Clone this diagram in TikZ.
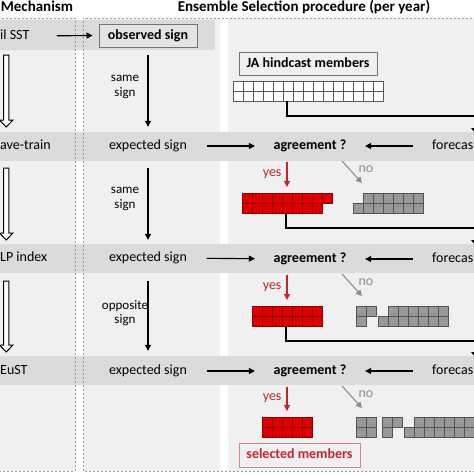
\documentclass[tikz,border=0pt]{standalone}
\usepackage{fontspec}
\setmainfont{Carlito}
\usetikzlibrary{arrows.meta}
\definecolor{panel}{gray}{0.94}
\definecolor{band}{gray}{0.86}
\definecolor{keepfill}{RGB}{222,0,0}
\definecolor{keepline}{RGB}{140,0,0}
\definecolor{dropfill}{gray}{0.6}
\definecolor{dropline}{gray}{0.33}
\definecolor{yescol}{RGB}{200,35,45}
\definecolor{nocol}{gray}{0.55}
\definecolor{selline}{RGB}{220,130,130}
\tikzset{
  txt/.style={font=\fontsize{14}{16}\selectfont,inner sep=0pt,text height=10pt,text depth=3pt},
  title/.style={txt,font=\fontsize{15}{17}\selectfont\bfseries},
  lbl/.style={font=\fontsize{13}{14.5}\selectfont,align=center,inner sep=0pt},
  box/.style={txt,font=\fontsize{14}{16}\selectfont\bfseries,draw=black!55,fill=band!60!panel,line width=1pt},
  link/.style={line width=1.1pt,-{Triangle[width=6pt,length=6pt]}},
  hlink/.style={link,shorten <=19.5pt,shorten >=18.5pt},
  yeslink/.style={link,draw=yescol,color=yescol,shorten <=9pt,shorten >=6pt},
  nolink/.style={link,draw=nocol,color=nocol},
  feed/.style={line width=1.1pt,-{Triangle[width=10pt,length=6pt]}},
  sep/.style={draw=black!40,line width=0.8pt,dash pattern=on 2pt off 2pt},
  member/.style={draw=black!65,fill=white,line width=0.8pt},
  keep/.style={draw=keepline,fill=keepfill,line width=0.8pt},
  drop/.style={draw=dropline,fill=dropfill,line width=0.8pt}
}
\newcommand\memrow[4]{\foreach \i in {1,...,#4} \draw[#1] ({#2+10*\i-10},#3) rectangle ++(10,10);}
\begin{document}
\begin{tikzpicture}[x=1pt,y=-1pt]
  \useasboundingbox (0,0) rectangle (474,474);
  \clip (0,0) rectangle (474,474);
  \fill[white] (0,0) rectangle (474,474);
  \fill[panel] (0,18) rectangle (75,471);
  \fill[panel] (83,18) rectangle (220,471);
  \fill[panel] (228,18) rectangle (480,471);
  \fill[band] (0,20) rectangle (215,50);
  \foreach \y in {132,244,356}
    \fill[band] (0,\y) rectangle (480,\y+29);
  \draw[sep] (-2,18) -- (75,18) -- (75,471) -- (-2,471);
  \draw[sep] (480,18) -- (83,18) -- (83,471) -- (480,471);

  \node[title] (mech) at (37,8) {Mechanism};
  \node[title] (ens) at (304,8) {Ensemble Selection procedure (per year)};

  \node[txt,anchor=west] (sst) at (0,36) {il SST};
  \node[txt,anchor=west] (m1) at (0,146) {ave-train};
  \node[txt,anchor=west] (m2) at (0,258) {LP index};
  \node[txt,anchor=west] (m3) at (0,371) {EuST};
  \foreach \ya/\yb in {55/127,168/240,281/352}
    \draw[line width=1pt,fill=white] (3.5,\ya) -- (3.5,\yb-7) -- (-0.5,\yb-7)
    -- (6.2,\yb) -- (12.9,\yb-7) -- (8.9,\yb-7) -- (8.9,\ya) -- cycle;

  \node[box,minimum width=98pt,minimum height=23pt] (obs) at (148,35.5) {observed sign};
  \node[txt] (exp1) at (148,146) {expected sign};
  \node[txt] (exp2) at (148,258) {expected sign};
  \node[txt] (exp3) at (148,371) {expected sign};
  \node[lbl] (s1) at (125,87) {same\\sign};
  \node[lbl] (s2) at (125,199) {same\\sign};
  \node[lbl] (s3) at (125,313) {opposite\\sign};
  \draw[link,shorten <=7.5pt,shorten >=12.5pt] (obs) -- (exp1);
  \draw[link,shorten <=15.5pt,shorten >=11.5pt] (exp1) -- (exp2);
  \draw[link,shorten <=16.5pt,shorten >=13.5pt] (exp2) -- (exp3);
  \draw[link,shorten <=27pt,shorten >=6pt] (sst.east) -- (obs.west);

  \node[box,fill=panel,minimum width=138pt,minimum height=23pt] (hind) at (308,63.5) {JA hindcast members};
  \memrow{member}{233}{81}{15}
  \memrow{member}{233}{91}{15}

  \node[txt,font=\fontsize{14}{16}\selectfont\bfseries] (agr1) at (310,146) {agreement ?};
  \node[txt,font=\fontsize{14}{16}\selectfont\bfseries] (agr2) at (310,259) {agreement ?};
  \node[txt,font=\fontsize{14}{16}\selectfont\bfseries] (agr3) at (310,371) {agreement ?};
  \node[txt,anchor=west] (fc1) at (432,146) {forecas};
  \node[txt,anchor=west] (fc2) at (432,259) {forecas};
  \node[txt,anchor=west] (fc3) at (432,371) {forecas};
  \foreach \r in {1,2,3} {
    \draw[hlink] (exp\r) -- (agr\r);
    \draw[hlink] (fc\r) -- (agr\r);
  }

  % kept and dropped members, one block per step
  \memrow{keep}{242}{193}{9}
  \memrow{keep}{242}{203}{8}
  \memrow{drop}{363}{193}{6}
  \memrow{drop}{353}{203}{7}

  \memrow{keep}{252}{306}{7}
  \memrow{keep}{252}{316}{7}
  \memrow{drop}{356}{306}{2}
  \memrow{drop}{356}{316}{1}
  \memrow{drop}{388}{306}{6}
  \memrow{drop}{378}{316}{7}

  \memrow{keep}{262}{417}{5}
  \memrow{keep}{262}{427}{5}
  \memrow{drop}{356}{417}{2}
  \memrow{drop}{356}{427}{2}
  \memrow{drop}{382}{417}{2}
  \memrow{drop}{382}{427}{1}
  \memrow{drop}{414}{417}{6}
  \memrow{drop}{404}{427}{7}

  \coordinate (k1) at (287,193);
  \coordinate (k2) at (287,306);
  \coordinate (k3) at (287,417);
  \foreach \r in {1,2,3} {
    \draw[yeslink] (agr\r.south -| k\r) -- (k\r)
      node[midway,left=5pt,txt,text=yescol] {yes};
    \draw[nolink] ([xshift=32pt,yshift=-15pt]agr\r.center) -- ++(20,22)
      node[pos=.35,right=9pt,txt,text=nocol] {no};
  }

  \coordinate (pool) at (287,101);
  \coordinate (kb1) at (286,213);
  \coordinate (kb2) at (286,326);
  \coordinate (in1) at (476,134);
  \coordinate (in2) at (476,246);
  \coordinate (in3) at (476,358);
  \draw[feed] (pool) -- ++(0,15) -| (in1);
  \draw[feed] (kb1) -- ++(0,15) -| (in2);
  \draw[feed] (kb2) -- ++(0,15) -| (in3);

  \node[txt,font=\fontsize{14}{16}\selectfont\bfseries,text=yescol,draw=selline,fill=panel,
    line width=1pt,minimum width=121pt,minimum height=24pt] (sel) at (299.5,455) {selected members};
\end{tikzpicture}
\end{document}
